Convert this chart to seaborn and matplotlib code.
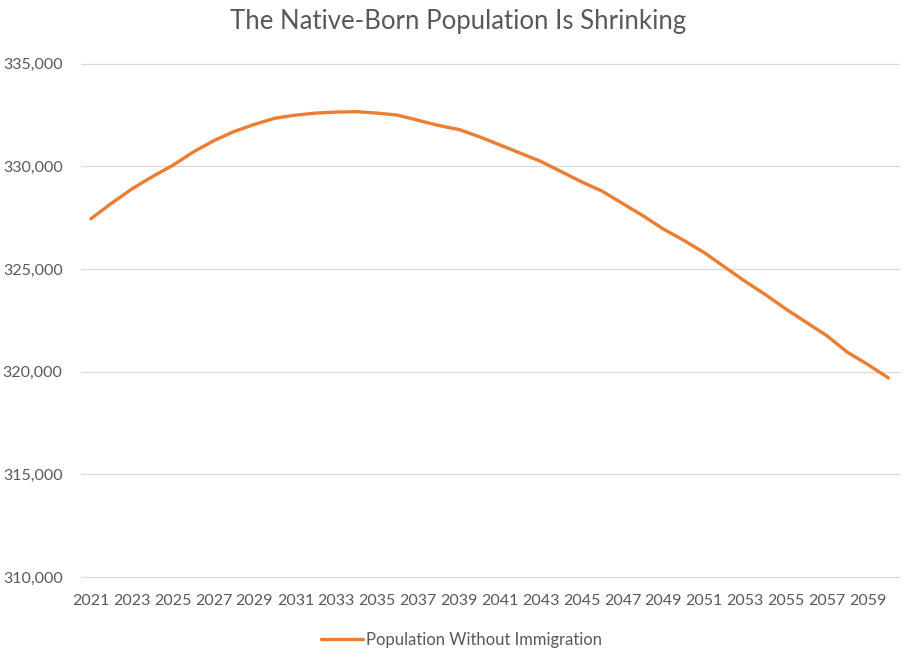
import seaborn as sns
import matplotlib.pyplot as plt
import pandas as pd

years = list(range(2021, 2061))
population = [327450, 328200, 328900, 329500, 330050, 330700, 331250, 331700, 332050, 332350,
              332500, 332600, 332650, 332670, 332600, 332500, 332250, 332000, 331800, 331450,
              331050, 330650, 330250, 329750, 329250, 328800, 328200, 327600, 326950, 326400,
              325800, 325100, 324400, 323750, 323050, 322400, 321750, 320950, 320350, 319700]
tick_years = list(range(2021, 2060, 2))
y_ticks = [310000, 315000, 320000, 325000, 330000, 335000]
series_name = "Population Without Immigration"

df = pd.DataFrame({"Year": years, series_name: population})

sns.set_style("white")
plt.rcParams['font.family'] = ['Lato', 'DejaVu Sans']
grey = "#595959"

fig = plt.figure(figsize=(9.16, 6.58), dpi=100)
ax = fig.add_axes([0.088, 0.123, 0.893, 0.780])

sns.lineplot(data=df, x="Year", y=series_name, color="#ED7D31", linewidth=2.4,
             label=series_name, ax=ax)

ax.set_xlim(2020.5, 2060.5)
ax.set_ylim(310000, 335000)
ax.set_yticks(y_ticks)
ax.set_yticklabels([f"{v:,}" for v in y_ticks])
ax.set_xticks(tick_years)
ax.set_xticklabels([str(y) for y in tick_years])
ax.tick_params(axis="both", colors=grey, labelsize=11.5, length=0)
ax.tick_params(axis="y", pad=13)
ax.tick_params(axis="x", pad=12)
ax.grid(axis="y", color="#D9D9D9", linewidth=0.9)
for gl in ax.get_ygridlines():
    gl.set_clip_on(False)
ax.set_axisbelow(True)
for s in ax.spines.values():
    s.set_visible(False)
ax.set_xlabel("")
ax.set_ylabel("")

fig.text(0.5, 1 - 22 / 658, "The Native-Born Population Is Shrinking", ha="center", va="center",
         fontsize=18.5, color=grey)

ax.legend(loc="upper center", bbox_to_anchor=(0.466, -0.078), frameon=False,
          fontsize=12, labelcolor=grey, handlelength=2.5, handletextpad=0.2)

fig.savefig("out.png", dpi=100)
